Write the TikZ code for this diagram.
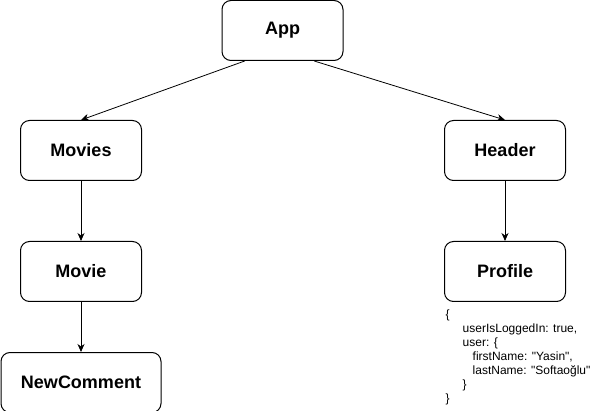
\documentclass[tikz,border=0pt]{standalone}
\usepackage{fontspec}
\setmainfont{Liberation Sans}
\newfontfamily\propsfont{Liberation Sans}
\usetikzlibrary{arrows.meta}
\usetikzlibrary{calc}
\usetikzlibrary{positioning}
\tikzset{
    component/.style={
        draw,
        rounded corners=9pt,
        minimum width=121pt,
        minimum height=60pt,
        line width=1pt,
        inner sep=0,
        font=\fontsize{18}{21}\selectfont\bfseries,
    },
    child arrow/.style={
        line width=0.8pt,
        -{Stealth[length=8pt,width=7pt,inset=2.5pt]},
    },
    props text/.style={
        align=left,
        inner sep=0,
        font=\propsfont\fontsize{12}{14}\selectfont,
    },
}

\begin{document}
\begin{tikzpicture}[x=1pt,y=-1pt]
    \useasboundingbox (0,0) rectangle (591,411);

    % top level
    \node[component] (app) at (282.5,30.5) {App};
    \node[component] (movies) at (81,150.5) {Movies};
    \node[component] (header) at (505,150.5) {Header};

    % children
    \node[component, below=60pt of movies] (movie) {Movie};
    \node[component, below=50pt of movie, minimum width=160pt] (newcomment) {NewComment};
    \node[component, below=60pt of header] (profile) {Profile};

    \node[props text, below right=8pt and 1.5pt of profile.south west] (profileprops) {%
        \{\\
        \hspace*{17pt}userIsLoggedIn: true,\\
        \hspace*{17pt}user: \{\\
        \hspace*{27pt}firstName: "Yasin",\\
        \hspace*{27pt}lastName: "Softaoğlu"\\
        \hspace*{17pt}\}\\
        \}};

    \draw[child arrow] ($(app.south west)!0.19!(app.south east)$) -- (movies.north);
    \draw[child arrow] ($(app.south west)!0.76!(app.south east)$) -- (header.north);
    \draw[child arrow] (movies) -- (movie);
    \draw[child arrow] (movie) -- (newcomment);
    \draw[child arrow] (header) -- (profile);

\end{tikzpicture}
\end{document}
